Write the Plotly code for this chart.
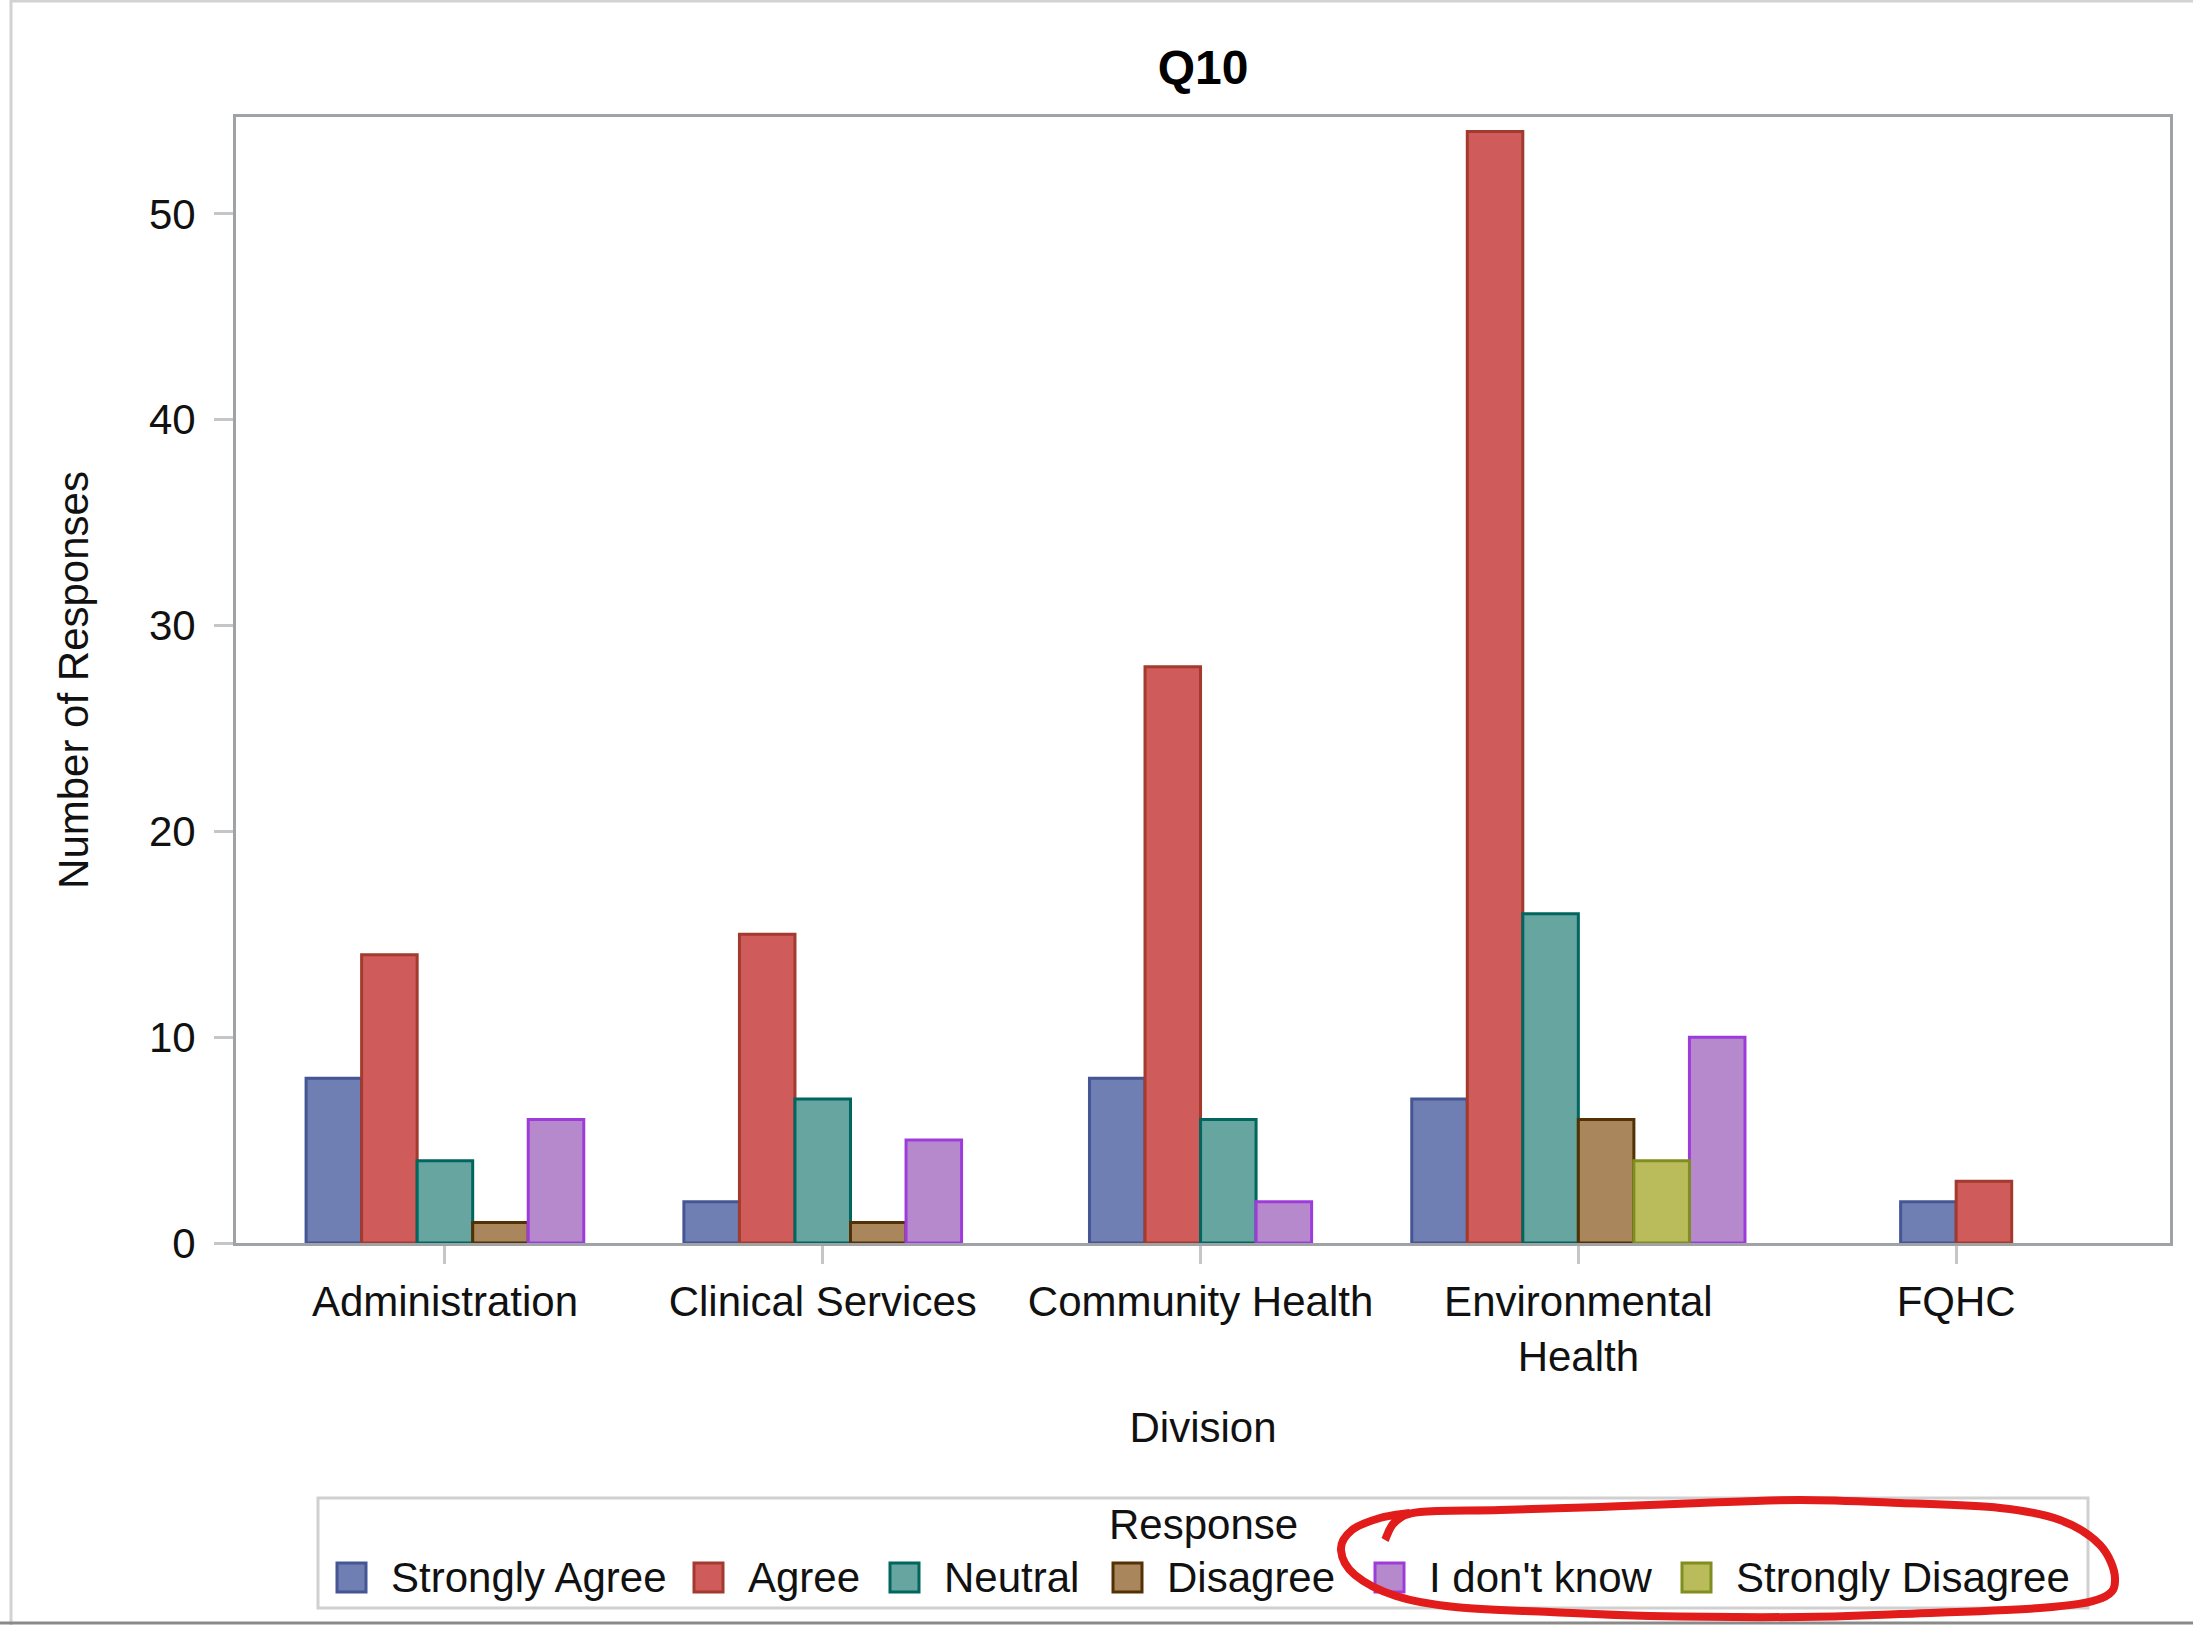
import plotly.graph_objects as go

# ---------------- data ----------------
categories = ["Administration", "Clinical Services", "Community Health",
              "Environmental Health", "FQHC"]
tick_labels = ["Administration", "Clinical Services", "Community Health",
               "Environmental<br>Health", "FQHC"]

response_names = ["Strongly Agree", "Agree", "Neutral", "Disagree",
                  "I don't know", "Strongly Disagree"]
strongly_agree = [8, 2, 8, 7, 2]
agree = [14, 15, 28, 54, 3]
neutral = [4, 7, 6, 16, None]
disagree = [1, 1, None, 6, None]
dont_know = [6, 5, 2, 10, None]
strongly_disagree = [None, None, None, 4, None]

y_ticks = [0, 10, 20, 30, 40, 50]

# ---------------- styles ----------------
series_values = [strongly_agree, agree, neutral, disagree, dont_know, strongly_disagree]
fill_colors = ["#6F7EB3", "#D05B5B", "#66A5A0", "#A9865B", "#B689CD", "#BABC5C"]
line_colors = ["#445694", "#A23A2E", "#01665E", "#543005", "#9D3CDB", "#7F8E1F"]
bar_order = [0, 1, 2, 3, 5, 4]          # order of bars inside a cluster
FONT = "Liberation Sans, Arial, sans-serif"
FS = 42
BAR_W = 0.147

W, H = 2193, 1625
ML, MR, MT, MB = 236, 23, 117, 382
PW, PH = W - ML - MR, H - MT - MB


def px(x):
    return (x - ML) / PW


def py(y):
    return (H - MB - y) / PH


# cluster offsets: only present responses occupy a slot, cluster centred on tick
offsets = [[None] * len(categories) for _ in series_values]
for ci in range(len(categories)):
    present = [s for s in bar_order if series_values[s][ci] is not None]
    n = len(present)
    for k, s in enumerate(present):
        offsets[s][ci] = (k - n / 2) * BAR_W

fig = go.Figure()
for s, name in enumerate(response_names):
    xs, ys, offs = [], [], []
    for ci, c in enumerate(categories):
        v = series_values[s][ci]
        if v is None:
            continue
        xs.append(c)
        ys.append(v)
        offs.append(offsets[s][ci])
    fig.add_trace(go.Bar(
        name=name, x=xs, y=ys, offset=offs, width=BAR_W,
        marker=dict(color=fill_colors[s], line=dict(color=line_colors[s], width=3)),
        showlegend=False,
    ))

axis_common = dict(
    showline=True, mirror=True, linecolor="#A0A3A6", linewidth=3,
    ticks="outside", tickwidth=3, tickcolor="#C4C6C8",
    tickfont=dict(family=FONT, size=FS, color="#111"),
    showgrid=False, zeroline=False,
)

fig.update_layout(
    width=W, height=H,
    margin=dict(l=ML, r=MR, t=MT, b=MB, autoexpand=False),
    paper_bgcolor="white", plot_bgcolor="white",
    barmode="overlay",
    font=dict(family=FONT, size=FS, color="#111"),
    title=dict(text="<b>Q10</b>", x=0.5, xref="paper", xanchor="center",
               y=1 - 67 / H, yref="container", yanchor="middle",
               font=dict(family=FONT, size=48, color="#000")),
    xaxis=dict(
        type="category", categoryorder="array", categoryarray=categories,
        tickvals=categories, ticktext=tick_labels,
        range=[-0.553, 4.566], ticklen=18, ticklabelstandoff=2,
        title=dict(text="Division", standoff=34,
                   font=dict(family=FONT, size=FS, color="#111")),
        **axis_common,
    ),
    yaxis=dict(
        range=[0, 54.71], tickvals=y_ticks, ticklen=19, ticklabelstandoff=10,
        title=dict(text="Number of Responses", standoff=48,
                   font=dict(family=FONT, size=FS, color="#111")),
        **axis_common,
    ),
)

# ---------------- legend (drawn as in the reference) ----------------
legend_square_left = [337, 694, 890, 1113, 1375, 1682]
shapes = [
    # outer frame of the screenshot
    dict(type="line", xref="paper", yref="paper", x0=px(11), x1=px(W + 5),
         y0=py(1), y1=py(1), line=dict(color="#D2D2D2", width=3)),
    dict(type="line", xref="paper", yref="paper", x0=px(11), x1=px(11),
         y0=py(0), y1=py(H), line=dict(color="#D2D2D2", width=3)),
    dict(type="line", xref="paper", yref="paper", x0=px(0), x1=px(W),
         y0=py(1623), y1=py(1623), line=dict(color="#8A8A8A", width=3)),
    # legend box
    dict(type="rect", xref="paper", yref="paper", x0=px(318), x1=px(2088),
         y0=py(1498), y1=py(1608), line=dict(color="#D0D0D0", width=3),
         fillcolor="rgba(0,0,0,0)"),
]
annotations = [
    dict(text="Response", xref="paper", yref="paper", x=px(1203), y=py(1524),
         xanchor="center", yanchor="middle", showarrow=False,
         font=dict(family=FONT, size=FS, color="#111")),
]
for s, name in enumerate(response_names):
    x0 = legend_square_left[s]
    shapes.append(dict(type="rect", xref="paper", yref="paper",
                       x0=px(x0), x1=px(x0 + 29), y0=py(1563), y1=py(1592),
                       fillcolor=fill_colors[s],
                       line=dict(color=line_colors[s], width=3)))
    annotations.append(dict(text=name, xref="paper", yref="paper",
                            x=px(x0 + 52), y=py(1577), xanchor="left",
                            yanchor="middle", showarrow=False,
                            font=dict(family=FONT, size=FS, color="#111")))

# hand-drawn red loop around the last two legend entries
loop_pts = [(1385, 1540), (1395, 1522), (1420, 1512), (1500, 1510), (1600, 1507),
            (1700, 1503), (1800, 1500), (1900, 1503), (2000, 1508), (2060, 1520),
            (2100, 1545), (2115, 1578), (2102, 1598), (2040, 1608), (1900, 1614),
            (1800, 1617), (1650, 1616), (1550, 1612), (1455, 1607), (1396, 1596),
            (1355, 1575), (1341, 1550), (1352, 1530), (1380, 1518), (1410, 1513)]
pp = [(px(a), py(b)) for a, b in loop_pts]
path = "M{:.5f},{:.5f}".format(*pp[0])
for i in range(len(pp) - 1):
    p0 = pp[i - 1] if i > 0 else pp[i]
    p1, p2 = pp[i], pp[i + 1]
    p3 = pp[i + 2] if i + 2 < len(pp) else p2
    c1 = (p1[0] + (p2[0] - p0[0]) / 6, p1[1] + (p2[1] - p0[1]) / 6)
    c2 = (p2[0] - (p3[0] - p1[0]) / 6, p2[1] - (p3[1] - p1[1]) / 6)
    path += " C{:.5f},{:.5f} {:.5f},{:.5f} {:.5f},{:.5f}".format(*c1, *c2, *p2)
shapes.append(dict(type="path", xref="paper", yref="paper", path=path,
                   line=dict(color="#E21B1B", width=8)))

fig.update_layout(shapes=shapes, annotations=annotations)

fig.write_html("out.html", config={"displayModeBar": False},
               post_script="document.body.style.margin='0';document.body.style.overflow='hidden';")
